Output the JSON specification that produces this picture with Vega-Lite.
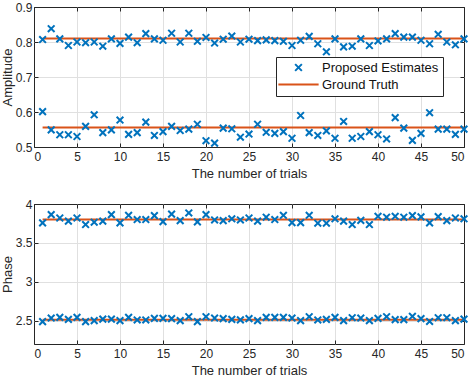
{
  "$schema": "https://vega.github.io/schema/vega-lite/v6.json",
  "autosize": {"type": "pad"},
  "padding": {"left": 0, "top": 0, "right": 0, "bottom": 0},
  "background": "white",
  "bounds": "flush",
  "spacing": 57,
  "datasets": {
    "ampEst": [
      {"t":1,"v":0.807},{"t":2,"v":0.838},{"t":3,"v":0.809},{"t":4,"v":0.79},{"t":5,"v":0.80},
      {"t":6,"v":0.798},{"t":7,"v":0.80},{"t":8,"v":0.788},{"t":9,"v":0.809},{"t":10,"v":0.796},
      {"t":11,"v":0.814},{"t":12,"v":0.798},{"t":13,"v":0.824},{"t":14,"v":0.809},{"t":15,"v":0.805},
      {"t":16,"v":0.825},{"t":17,"v":0.80},{"t":18,"v":0.825},{"t":19,"v":0.802},{"t":20,"v":0.813},
      {"t":21,"v":0.797},{"t":22,"v":0.808},{"t":23,"v":0.817},{"t":24,"v":0.80},{"t":25,"v":0.808},
      {"t":26,"v":0.804},{"t":27,"v":0.806},{"t":28,"v":0.804},{"t":29,"v":0.802},{"t":30,"v":0.79},
      {"t":31,"v":0.805},{"t":32,"v":0.816},{"t":33,"v":0.795},{"t":34,"v":0.772},{"t":35,"v":0.809},
      {"t":36,"v":0.786},{"t":37,"v":0.788},{"t":38,"v":0.809},{"t":39,"v":0.79},{"t":40,"v":0.803},
      {"t":41,"v":0.809},{"t":42,"v":0.824},{"t":43,"v":0.814},{"t":44,"v":0.814},{"t":45,"v":0.805},
      {"t":46,"v":0.795},{"t":47,"v":0.822},{"t":48,"v":0.80},{"t":49,"v":0.792},{"t":50,"v":0.809},
      {"t":1,"v":0.601},{"t":2,"v":0.549},{"t":3,"v":0.535},{"t":4,"v":0.535},{"t":5,"v":0.53},
      {"t":6,"v":0.559},{"t":7,"v":0.592},{"t":8,"v":0.541},{"t":9,"v":0.549},{"t":10,"v":0.577},
      {"t":11,"v":0.536},{"t":12,"v":0.541},{"t":13,"v":0.571},{"t":14,"v":0.533},{"t":15,"v":0.544},
      {"t":16,"v":0.559},{"t":17,"v":0.547},{"t":18,"v":0.551},{"t":19,"v":0.565},{"t":20,"v":0.518},
      {"t":21,"v":0.511},{"t":22,"v":0.554},{"t":23,"v":0.552},{"t":24,"v":0.528},{"t":25,"v":0.537},
      {"t":26,"v":0.565},{"t":27,"v":0.542},{"t":28,"v":0.539},{"t":29,"v":0.544},{"t":30,"v":0.525},
      {"t":31,"v":0.59},{"t":32,"v":0.541},{"t":33,"v":0.533},{"t":34,"v":0.546},{"t":35,"v":0.525},
      {"t":36,"v":0.573},{"t":37,"v":0.525},{"t":38,"v":0.53},{"t":39,"v":0.544},{"t":40,"v":0.535},
      {"t":41,"v":0.523},{"t":42,"v":0.584},{"t":43,"v":0.554},{"t":44,"v":0.519},{"t":45,"v":0.539},
      {"t":46,"v":0.598},{"t":47,"v":0.551},{"t":48,"v":0.551},{"t":49,"v":0.536},{"t":50,"v":0.551}
    ],
    "ampTruth": [
      {"t":1,"v":0.81,"g":"hi"},{"t":50,"v":0.81,"g":"hi"},
      {"t":1,"v":0.556,"g":"lo"},{"t":50,"v":0.556,"g":"lo"}
    ],
    "phEst": [
      {"t":1,"v":3.757},{"t":2,"v":3.864},{"t":3,"v":3.82},{"t":4,"v":3.78},{"t":5,"v":3.82},
      {"t":6,"v":3.736},{"t":7,"v":3.766},{"t":8,"v":3.78},{"t":9,"v":3.864},{"t":10,"v":3.757},
      {"t":11,"v":3.855},{"t":12,"v":3.80},{"t":13,"v":3.80},{"t":14,"v":3.85},{"t":15,"v":3.774},
      {"t":16,"v":3.87},{"t":17,"v":3.787},{"t":18,"v":3.885},{"t":19,"v":3.77},{"t":20,"v":3.864},
      {"t":21,"v":3.795},{"t":22,"v":3.787},{"t":23,"v":3.81},{"t":24,"v":3.795},{"t":25,"v":3.82},
      {"t":26,"v":3.78},{"t":27,"v":3.83},{"t":28,"v":3.80},{"t":29,"v":3.855},{"t":30,"v":3.76},
      {"t":31,"v":3.76},{"t":32,"v":3.855},{"t":33,"v":3.753},{"t":34,"v":3.753},{"t":35,"v":3.81},
      {"t":36,"v":3.78},{"t":37,"v":3.736},{"t":38,"v":3.79},{"t":39,"v":3.736},{"t":40,"v":3.842},
      {"t":41,"v":3.83},{"t":42,"v":3.842},{"t":43,"v":3.83},{"t":44,"v":3.85},{"t":45,"v":3.834},
      {"t":46,"v":3.757},{"t":47,"v":3.838},{"t":48,"v":3.787},{"t":49,"v":3.82},{"t":50,"v":3.81},
      {"t":1,"v":2.487},{"t":2,"v":2.534},{"t":3,"v":2.543},{"t":4,"v":2.517},{"t":5,"v":2.543},
      {"t":6,"v":2.487},{"t":7,"v":2.50},{"t":8,"v":2.52},{"t":9,"v":2.52},{"t":10,"v":2.50},
      {"t":11,"v":2.543},{"t":12,"v":2.509},{"t":13,"v":2.509},{"t":14,"v":2.53},{"t":15,"v":2.53},
      {"t":16,"v":2.526},{"t":17,"v":2.50},{"t":18,"v":2.551},{"t":19,"v":2.487},{"t":20,"v":2.551},
      {"t":21,"v":2.534},{"t":22,"v":2.526},{"t":23,"v":2.517},{"t":24,"v":2.51},{"t":25,"v":2.526},
      {"t":26,"v":2.50},{"t":27,"v":2.543},{"t":28,"v":2.543},{"t":29,"v":2.543},{"t":30,"v":2.534},
      {"t":31,"v":2.50},{"t":32,"v":2.551},{"t":33,"v":2.509},{"t":34,"v":2.517},{"t":35,"v":2.543},
      {"t":36,"v":2.50},{"t":37,"v":2.538},{"t":38,"v":2.534},{"t":39,"v":2.50},{"t":40,"v":2.53},
      {"t":41,"v":2.551},{"t":42,"v":2.513},{"t":43,"v":2.513},{"t":44,"v":2.556},{"t":45,"v":2.526},
      {"t":46,"v":2.49},{"t":47,"v":2.538},{"t":48,"v":2.538},{"t":49,"v":2.50},{"t":50,"v":2.52}
    ],
    "phTruth": [
      {"t":1,"v":3.80,"g":"hi"},{"t":50,"v":3.80,"g":"hi"},
      {"t":1,"v":2.513,"g":"lo"},{"t":50,"v":2.513,"g":"lo"}
    ]
  },
  "vconcat": [
    {
      "width": 430,
      "height": 140,
      "resolve": {"axis": {"x": "independent", "y": "independent"}},
      "layer": [
        {
          "data": {"name": "ampTruth"},
          "mark": {"type": "line", "strokeWidth": 2},
          "encoding": {
            "x": {"field": "t", "type": "quantitative", "scale": {"domain": [0, 50], "nice": false},
                  "axis": {"values": [0,5,10,15,20,25,30,35,40,45,50], "title": "The number of trials"}},
            "y": {"field": "v", "type": "quantitative", "scale": {"domain": [0.5, 0.9], "nice": false, "zero": false},
                  "axis": {"values": [0.5,0.6,0.7,0.8,0.9], "format": ".1f", "title": "Amplitude"}},
            "detail": {"field": "g"},
            "color": {"datum": "Ground Truth", "type": "nominal",
                      "scale": {"domain": ["Proposed Estimates", "Ground Truth"], "range": ["#0072BD", "#D95319"]},
                      "legend": {"orient": "none", "legendX": 242, "legendY": 50, "title": null}}
          }
        },
        {
          "data": {"name": "ampEst"},
          "mark": {"type": "point", "filled": false, "strokeWidth": 2, "opacity": 1, "size": 45},
          "encoding": {
            "x": {"field": "t", "type": "quantitative",
                  "axis": {"orient": "top", "values": [0,5,10,15,20,25,30,35,40,45,50], "labels": false, "grid": false, "title": null}},
            "y": {"field": "v", "type": "quantitative",
                  "axis": {"orient": "right", "values": [0.5,0.6,0.7,0.8,0.9], "labels": false, "grid": false, "title": null}},
            "color": {"datum": "Proposed Estimates", "type": "nominal",
                      "scale": {"domain": ["Proposed Estimates", "Ground Truth"], "range": ["#0072BD", "#D95319"]},
                      "legend": {"orient": "none", "legendX": 242, "legendY": 50, "title": null}},
            "shape": {"datum": "Proposed Estimates", "type": "nominal",
                      "scale": {"domain": ["Proposed Estimates", "Ground Truth"], "range": ["M-1,-1L1,1M-1,1L1,-1", "M-6,0L6,0"]},
                      "legend": {"orient": "none", "legendX": 242, "legendY": 50, "title": null}}
          }
        }
      ]
    },
    {
      "width": 430,
      "height": 140,
      "resolve": {"axis": {"x": "independent", "y": "independent"}},
      "layer": [
        {
          "data": {"name": "phTruth"},
          "mark": {"type": "line", "strokeWidth": 2},
          "encoding": {
            "x": {"field": "t", "type": "quantitative", "scale": {"domain": [0, 50], "nice": false},
                  "axis": {"values": [0,5,10,15,20,25,30,35,40,45,50], "title": "The number of trials"}},
            "y": {"field": "v", "type": "quantitative", "scale": {"domain": [2.2, 4], "nice": false, "zero": false},
                  "axis": {"values": [2.5,3,3.5,4], "format": "~g", "title": "Phase"}},
            "detail": {"field": "g"},
            "color": {"value": "#D95319"}
          }
        },
        {
          "data": {"name": "phEst"},
          "mark": {"type": "point", "filled": false, "strokeWidth": 2, "opacity": 1, "shape": "M-1,-1L1,1M-1,1L1,-1", "size": 45, "color": "#0072BD"},
          "encoding": {
            "x": {"field": "t", "type": "quantitative",
                  "axis": {"orient": "top", "values": [0,5,10,15,20,25,30,35,40,45,50], "labels": false, "grid": false, "title": null}},
            "y": {"field": "v", "type": "quantitative",
                  "axis": {"orient": "right", "values": [2.5,3,3.5,4], "labels": false, "grid": false, "title": null}}
          }
        }
      ]
    }
  ],
  "config": {
    "font": "Liberation Sans",
    "view": {"stroke": "#262626", "strokeWidth": 1},
    "axis": {
      "domain": false,
      "grid": true,
      "gridColor": "#e0e0e0",
      "gridOpacity": {"condition": {"test": "datum.value == 0 || datum.value == 50 || datum.value == 0.5 || datum.value == 0.9 || datum.value == 4", "value": 0}, "value": 1},
      "tickColor": "#262626",
      "tickSize": -4,
      "labelColor": "#262626",
      "labelOverlap": false,
      "titleColor": "#262626",
      "labelFontSize": 12,
      "titleFontSize": 13,
      "titleFontWeight": "normal"
    },
    "axisX": {"labelPadding": 8, "titlePadding": 5},
    "axisY": {"labelPadding": 6, "titlePadding": 1},
    "legend": {
      "fillColor": "white",
      "strokeColor": "#262626",
      "padding": 4,
      "labelFontSize": 13,
      "labelColor": "#111111",
      "labelOffset": 17,
      "symbolOffset": 12,
      "symbolSize": 45,
      "symbolStrokeWidth": 2,
      "rowPadding": 3
    }
  }
}
